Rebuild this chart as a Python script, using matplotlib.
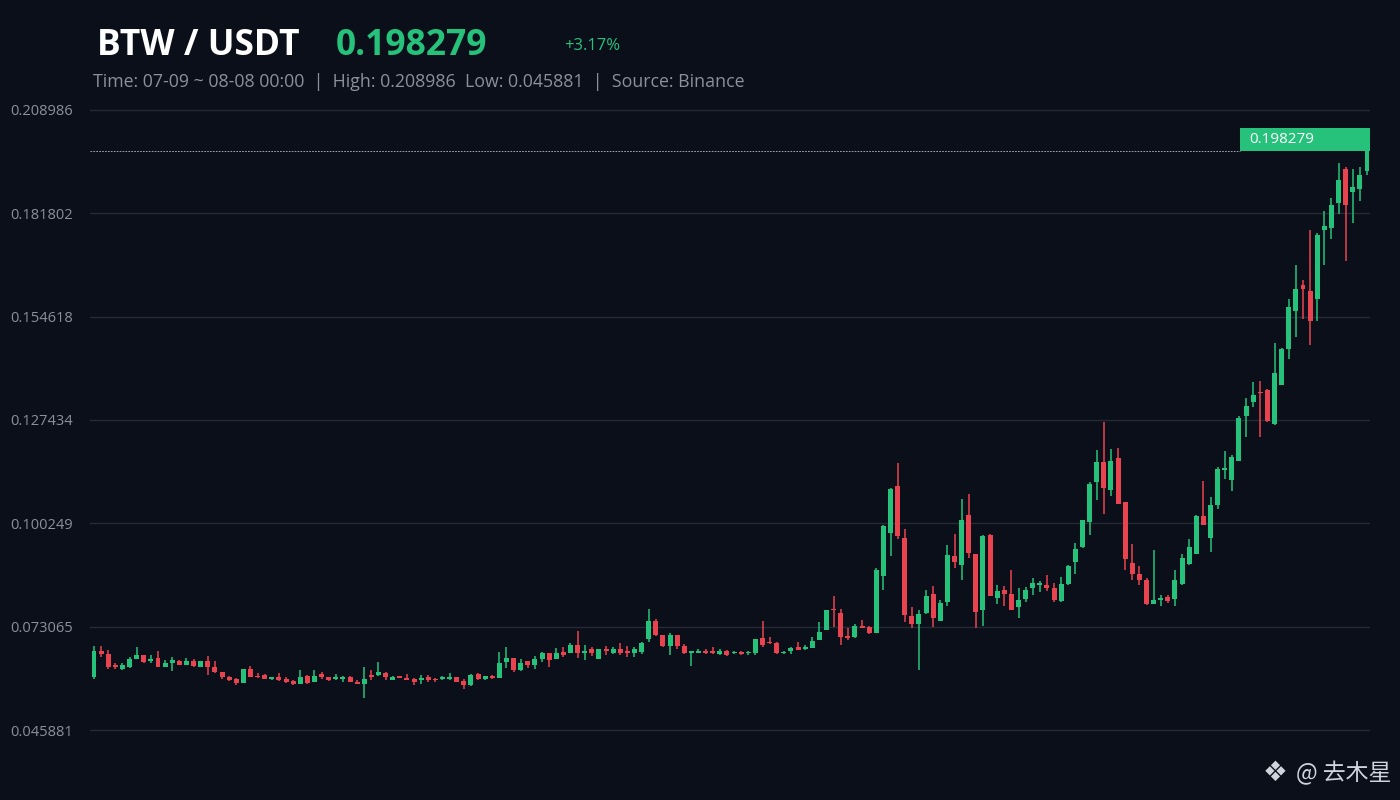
import numpy as np
import matplotlib.pyplot as plt
from matplotlib.patches import Rectangle
from matplotlib.transforms import blended_transform_factory, ScaledTranslation

# --- data (4h candles, 07-09 ~ 08-08) ---
opens = [
    0.05990, 0.06674, 0.06587, 0.06298, 0.06200, 0.06253, 0.06463, 0.06553, 0.06411, 0.06482,
    0.06253, 0.06342, 0.06411, 0.06305, 0.06411, 0.06253, 0.06411, 0.06237, 0.06113, 0.05990,
    0.05921, 0.05816, 0.06200, 0.06008, 0.06027, 0.05921, 0.05974, 0.05921, 0.05885, 0.05798,
    0.06008, 0.05858, 0.06053, 0.05990, 0.05929, 0.05929, 0.05982, 0.05858, 0.05806, 0.06035,
    0.06035, 0.06095, 0.05911, 0.05982, 0.05963, 0.05929, 0.05895, 0.05982, 0.05929, 0.05929,
    0.05929, 0.05974, 0.05877, 0.05772, 0.06069, 0.05929, 0.06016, 0.05963, 0.06369, 0.06474,
    0.06174, 0.06395, 0.06290, 0.06447, 0.06605, 0.06463, 0.06639, 0.06621, 0.06816, 0.06605,
    0.06710, 0.06463, 0.06710, 0.06605, 0.06726, 0.06674, 0.06605, 0.06639, 0.06989, 0.07447,
    0.07079, 0.06797, 0.07094, 0.06797, 0.06621, 0.06621, 0.06656, 0.06674, 0.06587, 0.06656,
    0.06605, 0.06639, 0.06605, 0.06621, 0.07008, 0.06910, 0.06884, 0.06605, 0.06665, 0.06771,
    0.06718, 0.06737, 0.06947, 0.07210, 0.07770, 0.07665, 0.07068, 0.07034, 0.07331, 0.07297,
    0.07139, 0.08630, 0.09769, 0.11013, 0.09630, 0.07578, 0.07384, 0.07665, 0.08157, 0.07455,
    0.07947, 0.09156, 0.08928, 0.10242, 0.09209, 0.07752, 0.09717, 0.08068, 0.08262, 0.08157,
    0.07823, 0.08033, 0.08315, 0.08402, 0.08402, 0.08331, 0.07981, 0.08436, 0.08999, 0.09401,
    0.10066, 0.11103, 0.11644, 0.10908, 0.11749, 0.10577, 0.08980, 0.08683, 0.08541, 0.07894,
    0.08016, 0.08087, 0.08033, 0.08420, 0.08963, 0.09209, 0.10208, 0.09630, 0.10506, 0.11428,
    0.11165, 0.11673, 0.12848, 0.13217, 0.13480, 0.13532, 0.12638, 0.13672, 0.14603, 0.15619,
    0.16287, 0.16129, 0.15918, 0.17742, 0.17794, 0.18444, 0.19354, 0.18741, 0.18828, 0.19302,
]
highs = [
    0.06798, 0.06797, 0.06692, 0.06342, 0.06358, 0.06500, 0.06763, 0.06568, 0.06568, 0.06658,
    0.06429, 0.06500, 0.06429, 0.06482, 0.06447, 0.06411, 0.06534, 0.06411, 0.06113, 0.06008,
    0.05956, 0.06200, 0.06271, 0.06095, 0.06061, 0.05990, 0.06095, 0.05974, 0.05903, 0.06166,
    0.06035, 0.06158, 0.06121, 0.05990, 0.06053, 0.06016, 0.06008, 0.05895, 0.06245, 0.06158,
    0.06369, 0.06121, 0.06016, 0.05985, 0.06069, 0.05948, 0.06035, 0.06035, 0.05948, 0.06016,
    0.06087, 0.05990, 0.05929, 0.06053, 0.06087, 0.06016, 0.06035, 0.06647, 0.06771, 0.06489,
    0.06447, 0.06411, 0.06534, 0.06639, 0.06621, 0.06745, 0.06763, 0.06884, 0.07200, 0.06816,
    0.06763, 0.06726, 0.06797, 0.06763, 0.06884, 0.06797, 0.06763, 0.06902, 0.07762, 0.07499,
    0.07079, 0.07131, 0.07094, 0.06850, 0.06674, 0.06726, 0.06710, 0.06763, 0.06710, 0.06692,
    0.06674, 0.06656, 0.06674, 0.06989, 0.07447, 0.07034, 0.06893, 0.06665, 0.06771, 0.06910,
    0.06824, 0.07034, 0.07421, 0.07736, 0.08120, 0.07770, 0.07263, 0.07384, 0.07489, 0.07315,
    0.08841, 0.09980, 0.10945, 0.11610, 0.09874, 0.07823, 0.07736, 0.08262, 0.08383, 0.07999,
    0.09454, 0.09735, 0.10663, 0.10787, 0.09225, 0.09717, 0.09751, 0.08402, 0.08367, 0.08788,
    0.08315, 0.08341, 0.08578, 0.08507, 0.08665, 0.08454, 0.08612, 0.08928, 0.09506, 0.10119,
    0.11103, 0.11944, 0.12681, 0.11978, 0.12012, 0.10577, 0.09488, 0.08909, 0.08578, 0.09314,
    0.08139, 0.08139, 0.08788, 0.09209, 0.09611, 0.10242, 0.11137, 0.10716, 0.11515, 0.11920,
    0.11830, 0.12848, 0.13322, 0.13743, 0.13761, 0.13567, 0.14761, 0.14637, 0.15918, 0.16813,
    0.16426, 0.17742, 0.17655, 0.18233, 0.18583, 0.19512, 0.19391, 0.19338, 0.19407, 0.19828,
]
lows = [
    0.05930, 0.06500, 0.06200, 0.06184, 0.06166, 0.06219, 0.06447, 0.06358, 0.06358, 0.06237,
    0.06253, 0.06132, 0.06290, 0.06290, 0.06253, 0.06237, 0.06042, 0.06095, 0.05937, 0.05885,
    0.05779, 0.05816, 0.05974, 0.05956, 0.05921, 0.05903, 0.05869, 0.05832, 0.05764, 0.05798,
    0.05806, 0.05843, 0.05929, 0.05877, 0.05911, 0.05858, 0.05843, 0.05806, 0.05437, 0.05895,
    0.06000, 0.05911, 0.05895, 0.05960, 0.05911, 0.05772, 0.05806, 0.05858, 0.05858, 0.05911,
    0.05911, 0.05843, 0.05666, 0.05737, 0.05911, 0.05911, 0.05929, 0.05963, 0.06226, 0.06121,
    0.06132, 0.06219, 0.06200, 0.06376, 0.06253, 0.06447, 0.06500, 0.06605, 0.06482, 0.06429,
    0.06534, 0.06463, 0.06553, 0.06587, 0.06568, 0.06516, 0.06516, 0.06587, 0.06902, 0.07060,
    0.06763, 0.06553, 0.06710, 0.06587, 0.06271, 0.06621, 0.06587, 0.06587, 0.06553, 0.06534,
    0.06587, 0.06568, 0.06553, 0.06568, 0.06779, 0.06842, 0.06579, 0.06595, 0.06579, 0.06684,
    0.06684, 0.06737, 0.06947, 0.07210, 0.07297, 0.06824, 0.06963, 0.07000, 0.07263, 0.07121,
    0.07139, 0.08278, 0.09172, 0.09611, 0.07421, 0.07263, 0.06174, 0.07631, 0.07297, 0.07455,
    0.07841, 0.08856, 0.08541, 0.09119, 0.07263, 0.07331, 0.08104, 0.07894, 0.07841, 0.07736,
    0.07526, 0.07947, 0.08139, 0.08225, 0.08244, 0.07947, 0.07962, 0.08402, 0.08699, 0.09367,
    0.09717, 0.10645, 0.10277, 0.10750, 0.10540, 0.08804, 0.08541, 0.08402, 0.07876, 0.07894,
    0.07841, 0.07929, 0.07841, 0.08402, 0.08928, 0.09209, 0.09980, 0.09263, 0.10410, 0.11183,
    0.10867, 0.11673, 0.12288, 0.13077, 0.12304, 0.12683, 0.12604, 0.13672, 0.14356, 0.14919,
    0.15408, 0.14724, 0.15356, 0.16813, 0.17497, 0.18163, 0.16934, 0.17918, 0.18497, 0.19180,
]
closes = [
    0.06674, 0.06587, 0.06253, 0.06237, 0.06305, 0.06463, 0.06553, 0.06384, 0.06463, 0.06253,
    0.06342, 0.06429, 0.06305, 0.06411, 0.06271, 0.06411, 0.06237, 0.06113, 0.05974, 0.05903,
    0.05816, 0.06200, 0.05990, 0.05974, 0.05937, 0.05974, 0.05903, 0.05850, 0.05798, 0.05974,
    0.05832, 0.06016, 0.05982, 0.05903, 0.05982, 0.05974, 0.05843, 0.05806, 0.05929, 0.05982,
    0.06106, 0.05982, 0.05990, 0.05963, 0.05911, 0.05858, 0.05963, 0.05895, 0.05895, 0.05982,
    0.05982, 0.05858, 0.05772, 0.06035, 0.05929, 0.06000, 0.05948, 0.06342, 0.06474, 0.06158,
    0.06350, 0.06290, 0.06447, 0.06621, 0.06429, 0.06605, 0.06568, 0.06831, 0.06605, 0.06674,
    0.06605, 0.06710, 0.06674, 0.06726, 0.06605, 0.06605, 0.06710, 0.06884, 0.07463, 0.07094,
    0.06797, 0.07079, 0.06797, 0.06621, 0.06639, 0.06639, 0.06605, 0.06605, 0.06674, 0.06553,
    0.06639, 0.06587, 0.06639, 0.06973, 0.06816, 0.06868, 0.06605, 0.06647, 0.06737, 0.06684,
    0.06771, 0.06929, 0.07173, 0.07736, 0.07736, 0.07034, 0.07000, 0.07331, 0.07278, 0.07139,
    0.08804, 0.09961, 0.10926, 0.09698, 0.07613, 0.07384, 0.07631, 0.08104, 0.07526, 0.07929,
    0.09191, 0.08999, 0.10103, 0.09243, 0.07699, 0.09698, 0.08120, 0.08244, 0.08173, 0.07752,
    0.07999, 0.08262, 0.08454, 0.08454, 0.08315, 0.07999, 0.08420, 0.08909, 0.09348, 0.10103,
    0.11066, 0.11629, 0.10945, 0.11663, 0.10540, 0.09085, 0.08699, 0.08541, 0.07894, 0.07999,
    0.08053, 0.07981, 0.08526, 0.09105, 0.09401, 0.10208, 0.09980, 0.10506, 0.11454, 0.11462,
    0.11778, 0.12796, 0.13111, 0.13409, 0.13445, 0.12709, 0.13972, 0.14619, 0.15708, 0.16182,
    0.16182, 0.15356, 0.17618, 0.17847, 0.18391, 0.19057, 0.18391, 0.18881, 0.19196, 0.198279,
]

y_ticks = [0.045881, 0.073065, 0.100249, 0.127434, 0.154618, 0.181802, 0.208986]
last_price = 0.198279
change_text = "+3.17%"
pair = "BTW / USDT"
subtitle = "Time: 07-09 ~ 08-08 00:00  |  High: 0.208986  Low: 0.045881  |  Source: Binance"

# --- style ---
BG = '#0b0f19'
GREEN = '#26c27c'
RED = '#e8444f'
GREY = '#8b909b'
GRID = '#262a35'
plt.rcParams['font.family'] = ['Open Sans', 'DejaVu Sans']

o = np.array(opens)
h = np.array(highs)
l = np.array(lows)
c = np.array(closes)
x = np.arange(len(o))
colors = np.where(c >= o, GREEN, RED)

fig = plt.figure(figsize=(14, 8), dpi=100, facecolor=BG)
ax = fig.add_axes([90 / 1400, 0.075, 1280 / 1400, 0.8])
ax.set_facecolor(BG)

# wicks + bodies
ax.vlines(x, l, h, colors=colors, lw=1.1, zorder=3)
body_h = np.maximum(np.abs(c - o), 0.0004)
ax.bar(x, body_h, bottom=np.minimum(o, c), width=0.7, color=colors, lw=0, zorder=4)

step = 1273 / 179
ax.set_xlim((90 - 94) / step, (1370 - 94) / step)
ax.set_ylim(0.0432503, 0.2116151)

ax.set_yticks(y_ticks)
ax.set_yticklabels([f"{v:.6f}" for v in y_ticks])
shift = ScaledTranslation(0, -2 / 100, fig.dpi_scale_trans)
for t in ax.get_yticklabels():
    t.set_horizontalalignment('left')
    t.set_transform(t.get_transform() + shift)
ax.tick_params(axis='y', length=0, pad=57.6, labelcolor=GREY, labelsize=10.5)
ax.set_xticks([])
ax.grid(axis='y', color=GRID, lw=1)
ax.set_axisbelow(True)
for s in ax.spines.values():
    s.set_visible(False)

# last price line and tag
tr = blended_transform_factory(ax.transAxes, ax.transData)
box_left = (1240 - 90) / 1280
ax.plot([0, box_left], [last_price, last_price], transform=tr, color='#b8bcc6',
        lw=0.6, ls=(0, (2, 1.5)), zorder=2)
ax.add_patch(Rectangle((box_left, last_price), 1 - box_left, 0.00605, transform=tr,
                       facecolor=GREEN, edgecolor='none', clip_on=False, zorder=5))
ax.text((1249 - 90) / 1280, last_price + 0.0029, f"{last_price:.6f}", transform=tr,
        color='white', fontsize=11, va='center', ha='left', zorder=6)

# header
fig.text(97 / 1400, 1 - 46 / 800, pair, color='white', fontsize=25.5, fontweight='bold',
         va='center', ha='left')
fig.text(336 / 1400, 1 - 46 / 800, f"{last_price:.6f}", color=GREEN, fontsize=25.5,
         fontweight='bold', va='center', ha='left')
fig.text(564 / 1400, 1 - 46 / 800, change_text, color=GREEN, fontsize=12,
         va='center', ha='left')
fig.text(93 / 1400, 1 - 82 / 800, subtitle, color=GREY, fontsize=12.8,
         va='center', ha='left')

# watermark
fig.text(1275 / 1400, 1 - 773 / 800, '\u2756', color='#d0d4dc', fontsize=20,
         va='center', ha='center', family=['DejaVu Sans'])
fig.text(1296 / 1400, 1 - 773 / 800, '@ 去木星', color='#d0d4dc', fontsize=16.5,
         va='center', ha='left', family=['Noto Sans CJK SC', 'DejaVu Sans'])

fig.savefig('out.png', dpi=100, facecolor=BG)
